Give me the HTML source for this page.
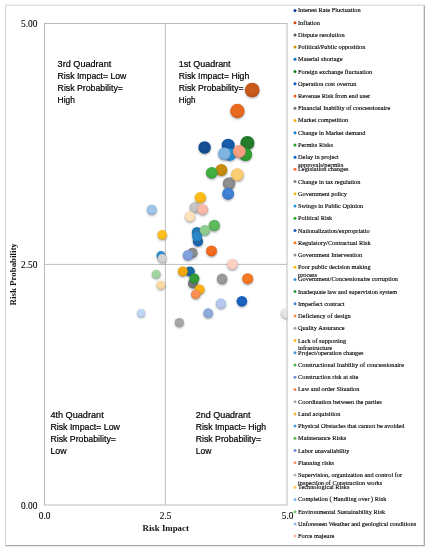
<!DOCTYPE html>
<html lang="en">
<head>
<meta charset="utf-8">
<title>Risk Impact vs Risk Probability</title>
<style>
html,body{margin:0;padding:0;background:#fff;}
body{width:432px;height:550px;overflow:hidden;}
svg{display:block;}
.lg{font-family:"Liberation Serif","Times New Roman",serif;font-size:6.33px;fill:#000;stroke:#000;stroke-width:0.12px;}
.ax{font-family:"Liberation Serif","Times New Roman",serif;font-size:9.33px;fill:#000;stroke:#000;stroke-width:0.1px;}
.at{font-family:"Liberation Serif","Times New Roman",serif;font-size:9px;font-weight:bold;fill:#111;}
.q{font-family:"Liberation Sans",Arial,sans-serif;font-size:9.8px;fill:#000;stroke:#000;stroke-width:0.22px;}
</style>
</head>
<body>
<svg width="432" height="550" viewBox="0 0 432 550">
<defs>
<filter id="sh" x="-30%" y="-30%" width="160%" height="170%"><feGaussianBlur stdDeviation="0.8"/></filter>
<clipPath id="pc"><rect x="0" y="0" width="287.3" height="550"/></clipPath>

<radialGradient id="g0" cx="0.5" cy="0.42" r="0.56"><stop offset="0" stop-color="#1A5197"/><stop offset="0.7" stop-color="#134C94"/><stop offset="1" stop-color="#114485"/></radialGradient>
<radialGradient id="g1" cx="0.5" cy="0.42" r="0.56"><stop offset="0" stop-color="#1C5DAB"/><stop offset="0.7" stop-color="#1558A8"/><stop offset="1" stop-color="#134F97"/></radialGradient>
<radialGradient id="g2" cx="0.5" cy="0.42" r="0.56"><stop offset="0" stop-color="#1C65BF"/><stop offset="0.7" stop-color="#1560BD"/><stop offset="1" stop-color="#1356AA"/></radialGradient>
<radialGradient id="g3" cx="0.5" cy="0.42" r="0.56"><stop offset="0" stop-color="#1E6CA2"/><stop offset="0.7" stop-color="#17679F"/><stop offset="1" stop-color="#155D8F"/></radialGradient>
<radialGradient id="g4" cx="0.5" cy="0.42" r="0.56"><stop offset="0" stop-color="#1E6CB7"/><stop offset="0.7" stop-color="#1767B5"/><stop offset="1" stop-color="#155DA3"/></radialGradient>
<radialGradient id="g5" cx="0.5" cy="0.42" r="0.56"><stop offset="0" stop-color="#2595D9"/><stop offset="0.7" stop-color="#1E92D8"/><stop offset="1" stop-color="#1B83C2"/></radialGradient>
<radialGradient id="g6" cx="0.5" cy="0.42" r="0.56"><stop offset="0" stop-color="#267BB6"/><stop offset="0.7" stop-color="#1F77B4"/><stop offset="1" stop-color="#1C6BA2"/></radialGradient>
<radialGradient id="g7" cx="0.5" cy="0.42" r="0.56"><stop offset="0" stop-color="#287E30"/><stop offset="0.7" stop-color="#217A2A"/><stop offset="1" stop-color="#1E6E26"/></radialGradient>
<radialGradient id="g8" cx="0.5" cy="0.42" r="0.56"><stop offset="0" stop-color="#2C8BCA"/><stop offset="0.7" stop-color="#2587C8"/><stop offset="1" stop-color="#217AB4"/></radialGradient>
<radialGradient id="g9" cx="0.5" cy="0.42" r="0.56"><stop offset="0" stop-color="#33A333"/><stop offset="0.7" stop-color="#2DA02D"/><stop offset="1" stop-color="#289028"/></radialGradient>
<radialGradient id="g10" cx="0.5" cy="0.42" r="0.56"><stop offset="0" stop-color="#348ED1"/><stop offset="0.7" stop-color="#2E8BD0"/><stop offset="1" stop-color="#297DBB"/></radialGradient>
<radialGradient id="g11" cx="0.5" cy="0.42" r="0.56"><stop offset="0" stop-color="#349D3B"/><stop offset="0.7" stop-color="#2E9A35"/><stop offset="1" stop-color="#298B30"/></radialGradient>
<radialGradient id="g12" cx="0.5" cy="0.42" r="0.56"><stop offset="0" stop-color="#44B044"/><stop offset="0.7" stop-color="#3EAE3E"/><stop offset="1" stop-color="#389D38"/></radialGradient>
<radialGradient id="g13" cx="0.5" cy="0.42" r="0.56"><stop offset="0" stop-color="#4583D5"/><stop offset="0.7" stop-color="#3F7FD4"/><stop offset="1" stop-color="#3972BF"/></radialGradient>
<radialGradient id="g14" cx="0.5" cy="0.42" r="0.56"><stop offset="0" stop-color="#61BA61"/><stop offset="0.7" stop-color="#5CB85C"/><stop offset="1" stop-color="#53A653"/></radialGradient>
<radialGradient id="g15" cx="0.5" cy="0.42" r="0.56"><stop offset="0" stop-color="#7C7C7C"/><stop offset="0.7" stop-color="#787878"/><stop offset="1" stop-color="#6C6C6C"/></radialGradient>
<radialGradient id="g16" cx="0.5" cy="0.42" r="0.56"><stop offset="0" stop-color="#83A3DD"/><stop offset="0.7" stop-color="#7FA0DC"/><stop offset="1" stop-color="#7290C6"/></radialGradient>
<radialGradient id="g17" cx="0.5" cy="0.42" r="0.56"><stop offset="0" stop-color="#83B5E1"/><stop offset="0.7" stop-color="#7FB3E0"/><stop offset="1" stop-color="#72A1CA"/></radialGradient>
<radialGradient id="g18" cx="0.5" cy="0.42" r="0.56"><stop offset="0" stop-color="#8E8E8E"/><stop offset="0.7" stop-color="#8A8A8A"/><stop offset="1" stop-color="#7C7C7C"/></radialGradient>
<radialGradient id="g19" cx="0.5" cy="0.42" r="0.56"><stop offset="0" stop-color="#8F8F8F"/><stop offset="0.7" stop-color="#8C8C8C"/><stop offset="1" stop-color="#7E7E7E"/></radialGradient>
<radialGradient id="g20" cx="0.5" cy="0.42" r="0.56"><stop offset="0" stop-color="#90CD90"/><stop offset="0.7" stop-color="#8DCB8D"/><stop offset="1" stop-color="#7FB77F"/></radialGradient>
<radialGradient id="g21" cx="0.5" cy="0.42" r="0.56"><stop offset="0" stop-color="#92ADDD"/><stop offset="0.7" stop-color="#8FAADC"/><stop offset="1" stop-color="#8199C6"/></radialGradient>
<radialGradient id="g22" cx="0.5" cy="0.42" r="0.56"><stop offset="0" stop-color="#9B9B9B"/><stop offset="0.7" stop-color="#989898"/><stop offset="1" stop-color="#898989"/></radialGradient>
<radialGradient id="g23" cx="0.5" cy="0.42" r="0.56"><stop offset="0" stop-color="#A0C5E7"/><stop offset="0.7" stop-color="#9DC3E6"/><stop offset="1" stop-color="#8DB0CF"/></radialGradient>
<radialGradient id="g24" cx="0.5" cy="0.42" r="0.56"><stop offset="0" stop-color="#A3D5A3"/><stop offset="0.7" stop-color="#A0D4A0"/><stop offset="1" stop-color="#90BF90"/></radialGradient>
<radialGradient id="g25" cx="0.5" cy="0.42" r="0.56"><stop offset="0" stop-color="#A9A9A9"/><stop offset="0.7" stop-color="#A6A6A6"/><stop offset="1" stop-color="#959595"/></radialGradient>
<radialGradient id="g26" cx="0.5" cy="0.42" r="0.56"><stop offset="0" stop-color="#B6C9EF"/><stop offset="0.7" stop-color="#B4C7EE"/><stop offset="1" stop-color="#A2B3D6"/></radialGradient>
<radialGradient id="g27" cx="0.5" cy="0.42" r="0.56"><stop offset="0" stop-color="#BFD8F4"/><stop offset="0.7" stop-color="#BDD7F4"/><stop offset="1" stop-color="#AAC2DC"/></radialGradient>
<radialGradient id="g28" cx="0.5" cy="0.42" r="0.56"><stop offset="0" stop-color="#C6C6C6"/><stop offset="0.7" stop-color="#C4C4C4"/><stop offset="1" stop-color="#B0B0B0"/></radialGradient>
<radialGradient id="g29" cx="0.5" cy="0.42" r="0.56"><stop offset="0" stop-color="#C78E11"/><stop offset="0.7" stop-color="#C58A0A"/><stop offset="1" stop-color="#B17C09"/></radialGradient>
<radialGradient id="g30" cx="0.5" cy="0.42" r="0.56"><stop offset="0" stop-color="#CA5D21"/><stop offset="0.7" stop-color="#C8581A"/><stop offset="1" stop-color="#B44F17"/></radialGradient>
<radialGradient id="g31" cx="0.5" cy="0.42" r="0.56"><stop offset="0" stop-color="#D3D3D3"/><stop offset="0.7" stop-color="#D2D2D2"/><stop offset="1" stop-color="#BDBDBD"/></radialGradient>
<radialGradient id="g32" cx="0.5" cy="0.42" r="0.56"><stop offset="0" stop-color="#E5E5E5"/><stop offset="0.7" stop-color="#E4E4E4"/><stop offset="1" stop-color="#CDCDCD"/></radialGradient>
<radialGradient id="g33" cx="0.5" cy="0.42" r="0.56"><stop offset="0" stop-color="#E96C23"/><stop offset="0.7" stop-color="#E8671C"/><stop offset="1" stop-color="#D15D19"/></radialGradient>
<radialGradient id="g34" cx="0.5" cy="0.42" r="0.56"><stop offset="0" stop-color="#F26F24"/><stop offset="0.7" stop-color="#F26B1D"/><stop offset="1" stop-color="#DA601A"/></radialGradient>
<radialGradient id="g35" cx="0.5" cy="0.42" r="0.56"><stop offset="0" stop-color="#F2A913"/><stop offset="0.7" stop-color="#F2A60C"/><stop offset="1" stop-color="#DA950B"/></radialGradient>
<radialGradient id="g36" cx="0.5" cy="0.42" r="0.56"><stop offset="0" stop-color="#F57A27"/><stop offset="0.7" stop-color="#F57620"/><stop offset="1" stop-color="#DC6A1D"/></radialGradient>
<radialGradient id="g37" cx="0.5" cy="0.42" r="0.56"><stop offset="0" stop-color="#F7A184"/><stop offset="0.7" stop-color="#F79E80"/><stop offset="1" stop-color="#DE8E73"/></radialGradient>
<radialGradient id="g38" cx="0.5" cy="0.42" r="0.56"><stop offset="0" stop-color="#F8BAAB"/><stop offset="0.7" stop-color="#F8B8A8"/><stop offset="1" stop-color="#DFA697"/></radialGradient>
<radialGradient id="g39" cx="0.5" cy="0.42" r="0.56"><stop offset="0" stop-color="#FA8F55"/><stop offset="0.7" stop-color="#FA8C50"/><stop offset="1" stop-color="#E17E48"/></radialGradient>
<radialGradient id="g40" cx="0.5" cy="0.42" r="0.56"><stop offset="0" stop-color="#FBD1C6"/><stop offset="0.7" stop-color="#FBD0C4"/><stop offset="1" stop-color="#E2BBB0"/></radialGradient>
<radialGradient id="g41" cx="0.5" cy="0.42" r="0.56"><stop offset="0" stop-color="#FCCE76"/><stop offset="0.7" stop-color="#FCCC72"/><stop offset="1" stop-color="#E3B867"/></radialGradient>
<radialGradient id="g42" cx="0.5" cy="0.42" r="0.56"><stop offset="0" stop-color="#FCDAA3"/><stop offset="0.7" stop-color="#FCD9A0"/><stop offset="1" stop-color="#E3C390"/></radialGradient>
<radialGradient id="g43" cx="0.5" cy="0.42" r="0.56"><stop offset="0" stop-color="#FCE1BA"/><stop offset="0.7" stop-color="#FCE0B8"/><stop offset="1" stop-color="#E3CAA6"/></radialGradient>
<radialGradient id="g44" cx="0.5" cy="0.42" r="0.56"><stop offset="0" stop-color="#FDB117"/><stop offset="0.7" stop-color="#FDAF10"/><stop offset="1" stop-color="#E49E0E"/></radialGradient>
<radialGradient id="g45" cx="0.5" cy="0.42" r="0.56"><stop offset="0" stop-color="#FDBB1A"/><stop offset="0.7" stop-color="#FDB913"/><stop offset="1" stop-color="#E4A611"/></radialGradient>
<radialGradient id="g46" cx="0.5" cy="0.42" r="0.56"><stop offset="0" stop-color="#FFC023"/><stop offset="0.7" stop-color="#FFBE1C"/><stop offset="1" stop-color="#E6AB19"/></radialGradient>
</defs>
<rect x="0" y="0" width="432" height="550" fill="#fff"/>
<path d="M5.5 545.5 V5.2" fill="none" stroke="#D4D4D4" stroke-width="1"/><path d="M5 5.2 H424.5" fill="none" stroke="#DADADA" stroke-width="1.3"/>
<path d="M424.3 5.5 V545.55 H5.5" fill="none" stroke="#A8A8A8" stroke-width="1.3"/>
<rect x="44.5" y="23.5" width="242.5" height="481.5" fill="none" stroke="#A8A8A8" stroke-width="0.75"/>
<path d="M165.4 23.5 V505.0 M44.5 264.4 H287.0" fill="none" stroke="#A4A4A4" stroke-width="0.7"/>
<text class="q" x="57.6" y="66.8" textLength="53.7" lengthAdjust="spacingAndGlyphs">3rd Quadrant</text>
<text class="q" x="57.6" y="78.8" textLength="68.8" lengthAdjust="spacingAndGlyphs">Risk Impact= Low</text>
<text class="q" x="57.6" y="90.8" textLength="65.3" lengthAdjust="spacingAndGlyphs">Risk Probability=</text>
<text class="q" x="57.6" y="102.8" textLength="17.2" lengthAdjust="spacingAndGlyphs">High</text>
<text class="q" x="178.8" y="66.8" textLength="51.8" lengthAdjust="spacingAndGlyphs">1st Quadrant</text>
<text class="q" x="178.8" y="78.8" textLength="70.4" lengthAdjust="spacingAndGlyphs">Risk Impact= High</text>
<text class="q" x="178.8" y="90.8" textLength="64.8" lengthAdjust="spacingAndGlyphs">Risk Probability=</text>
<text class="q" x="178.8" y="102.8" textLength="16.7" lengthAdjust="spacingAndGlyphs">High</text>
<text class="q" x="50.4" y="418.3" textLength="53.3" lengthAdjust="spacingAndGlyphs">4th Quadrant</text>
<text class="q" x="50.4" y="430.3" textLength="69.5" lengthAdjust="spacingAndGlyphs">Risk Impact= Low</text>
<text class="q" x="50.4" y="442.3" textLength="65.5" lengthAdjust="spacingAndGlyphs">Risk Probability=</text>
<text class="q" x="50.4" y="454.3" textLength="16.2" lengthAdjust="spacingAndGlyphs">Low</text>
<text class="q" x="195.7" y="418.3" textLength="54.9" lengthAdjust="spacingAndGlyphs">2nd Quadrant</text>
<text class="q" x="195.7" y="430.3" textLength="70.4" lengthAdjust="spacingAndGlyphs">Risk Impact= High</text>
<text class="q" x="195.7" y="442.3" textLength="65.3" lengthAdjust="spacingAndGlyphs">Risk Probability=</text>
<text class="q" x="195.7" y="454.3" textLength="15.6" lengthAdjust="spacingAndGlyphs">Low</text>
<text class="ax" x="37.3" y="27.0" text-anchor="end">5.00</text>
<text class="ax" x="37.3" y="267.7" text-anchor="end">2.50</text>
<text class="ax" x="37.3" y="508.7" text-anchor="end">0.00</text>
<text class="ax" x="44.6" y="519.3" text-anchor="middle">0.0</text>
<text class="ax" x="165.6" y="519.3" text-anchor="middle">2.5</text>
<text class="ax" x="287.6" y="519.3" text-anchor="middle">5.0</text>
<text class="at" x="165.7" y="531" text-anchor="middle" textLength="46.3" lengthAdjust="spacingAndGlyphs">Risk Impact</text>
<text class="at" transform="translate(16.2,274.3) rotate(-90)" text-anchor="middle" textLength="62.2" lengthAdjust="spacingAndGlyphs">Risk Probability</text>
<g clip-path="url(#pc)">
<circle cx="252.3" cy="91.1" r="7.2" fill="#3A4658" opacity="0.5" filter="url(#sh)"/>
<circle cx="252.2" cy="90.0" r="7.3" fill="url(#g30)"/>
<circle cx="237.5" cy="112.1" r="7.1" fill="#3A4658" opacity="0.5" filter="url(#sh)"/>
<circle cx="237.4" cy="111.0" r="7.2" fill="url(#g33)"/>
<circle cx="204.7" cy="148.6" r="6.1" fill="#3A4658" opacity="0.5" filter="url(#sh)"/>
<circle cx="204.6" cy="147.5" r="6.2" fill="url(#g0)"/>
<circle cx="228.3" cy="146.3" r="6.4" fill="#3A4658" opacity="0.5" filter="url(#sh)"/>
<circle cx="228.2" cy="145.2" r="6.5" fill="url(#g1)"/>
<circle cx="247.5" cy="144.0" r="6.9" fill="#3A4658" opacity="0.5" filter="url(#sh)"/>
<circle cx="247.4" cy="142.9" r="7.0" fill="url(#g7)"/>
<circle cx="245.6" cy="155.6" r="6.5" fill="#3A4658" opacity="0.5" filter="url(#sh)"/>
<circle cx="245.5" cy="154.5" r="6.6" fill="url(#g9)"/>
<circle cx="229.9" cy="155.6" r="6.2" fill="#3A4658" opacity="0.5" filter="url(#sh)"/>
<circle cx="229.8" cy="154.5" r="6.3" fill="url(#g5)"/>
<circle cx="224.4" cy="154.9" r="6.2" fill="#3A4658" opacity="0.5" filter="url(#sh)"/>
<circle cx="224.3" cy="153.8" r="6.3" fill="url(#g17)"/>
<circle cx="239.4" cy="152.6" r="6.4" fill="#3A4658" opacity="0.5" filter="url(#sh)"/>
<circle cx="239.3" cy="151.5" r="6.5" fill="url(#g37)"/>
<circle cx="221.5" cy="171.2" r="5.9" fill="#3A4658" opacity="0.5" filter="url(#sh)"/>
<circle cx="221.4" cy="170.1" r="6.0" fill="url(#g29)"/>
<circle cx="211.8" cy="174.0" r="5.7" fill="#3A4658" opacity="0.5" filter="url(#sh)"/>
<circle cx="211.7" cy="172.9" r="5.8" fill="url(#g12)"/>
<circle cx="229.1" cy="184.6" r="6.1" fill="#3A4658" opacity="0.5" filter="url(#sh)"/>
<circle cx="229.0" cy="183.5" r="6.2" fill="url(#g19)"/>
<circle cx="237.5" cy="175.8" r="6.3" fill="#3A4658" opacity="0.5" filter="url(#sh)"/>
<circle cx="237.4" cy="174.7" r="6.4" fill="url(#g41)"/>
<circle cx="228.2" cy="194.8" r="5.9" fill="#3A4658" opacity="0.5" filter="url(#sh)"/>
<circle cx="228.1" cy="193.7" r="6.0" fill="url(#g13)"/>
<circle cx="194.9" cy="208.5" r="5.2" fill="#3A4658" opacity="0.5" filter="url(#sh)"/>
<circle cx="194.8" cy="207.4" r="5.3" fill="url(#g28)"/>
<circle cx="200.5" cy="198.7" r="5.5" fill="#3A4658" opacity="0.5" filter="url(#sh)"/>
<circle cx="200.4" cy="197.6" r="5.6" fill="url(#g45)"/>
<circle cx="202.7" cy="210.5" r="5.4" fill="#3A4658" opacity="0.5" filter="url(#sh)"/>
<circle cx="202.6" cy="209.4" r="5.5" fill="url(#g38)"/>
<circle cx="190.1" cy="217.6" r="5.2" fill="#3A4658" opacity="0.5" filter="url(#sh)"/>
<circle cx="190.0" cy="216.5" r="5.3" fill="url(#g43)"/>
<circle cx="214.4" cy="226.6" r="5.6" fill="#3A4658" opacity="0.5" filter="url(#sh)"/>
<circle cx="214.3" cy="225.5" r="5.7" fill="url(#g14)"/>
<circle cx="197.1" cy="233.4" r="5.1" fill="#3A4658" opacity="0.5" filter="url(#sh)"/>
<circle cx="197.0" cy="232.3" r="5.2" fill="url(#g6)"/>
<circle cx="198.1" cy="242.6" r="5.0" fill="#3A4658" opacity="0.5" filter="url(#sh)"/>
<circle cx="198.0" cy="241.5" r="5.1" fill="url(#g4)"/>
<circle cx="197.2" cy="237.7" r="4.9" fill="#3A4658" opacity="0.5" filter="url(#sh)"/>
<circle cx="197.1" cy="236.6" r="5.0" fill="url(#g8)"/>
<circle cx="205.1" cy="231.3" r="5.2" fill="#3A4658" opacity="0.5" filter="url(#sh)"/>
<circle cx="205.0" cy="230.2" r="5.3" fill="url(#g20)"/>
<circle cx="151.9" cy="210.8" r="4.9" fill="#3A4658" opacity="0.5" filter="url(#sh)"/>
<circle cx="151.8" cy="209.7" r="5.0" fill="url(#g23)"/>
<circle cx="162.3" cy="236.0" r="4.7" fill="#3A4658" opacity="0.5" filter="url(#sh)"/>
<circle cx="162.2" cy="234.9" r="4.8" fill="url(#g46)"/>
<circle cx="211.6" cy="252.0" r="5.4" fill="#3A4658" opacity="0.5" filter="url(#sh)"/>
<circle cx="211.5" cy="250.9" r="5.5" fill="url(#g34)"/>
<circle cx="192.6" cy="253.9" r="5.0" fill="#3A4658" opacity="0.5" filter="url(#sh)"/>
<circle cx="192.5" cy="252.8" r="5.1" fill="url(#g18)"/>
<circle cx="188.0" cy="256.4" r="5.1" fill="#3A4658" opacity="0.5" filter="url(#sh)"/>
<circle cx="187.9" cy="255.3" r="5.2" fill="url(#g16)"/>
<circle cx="161.1" cy="256.7" r="4.4" fill="#3A4658" opacity="0.5" filter="url(#sh)"/>
<circle cx="161.0" cy="255.6" r="4.5" fill="url(#g10)"/>
<circle cx="162.3" cy="259.5" r="4.3" fill="#3A4658" opacity="0.5" filter="url(#sh)"/>
<circle cx="162.2" cy="258.4" r="4.4" fill="url(#g31)"/>
<circle cx="156.3" cy="275.3" r="4.3" fill="#3A4658" opacity="0.5" filter="url(#sh)"/>
<circle cx="156.2" cy="274.2" r="4.4" fill="url(#g24)"/>
<circle cx="160.9" cy="286.3" r="4.3" fill="#3A4658" opacity="0.5" filter="url(#sh)"/>
<circle cx="160.8" cy="285.2" r="4.4" fill="url(#g42)"/>
<circle cx="189.9" cy="272.6" r="4.9" fill="#3A4658" opacity="0.5" filter="url(#sh)"/>
<circle cx="189.8" cy="271.5" r="5.0" fill="url(#g3)"/>
<circle cx="182.9" cy="272.6" r="4.9" fill="#3A4658" opacity="0.5" filter="url(#sh)"/>
<circle cx="182.8" cy="271.5" r="5.0" fill="url(#g35)"/>
<circle cx="193.1" cy="284.5" r="4.9" fill="#3A4658" opacity="0.5" filter="url(#sh)"/>
<circle cx="193.0" cy="283.4" r="5.0" fill="url(#g15)"/>
<circle cx="194.5" cy="279.6" r="4.9" fill="#3A4658" opacity="0.5" filter="url(#sh)"/>
<circle cx="194.4" cy="278.5" r="5.0" fill="url(#g11)"/>
<circle cx="199.8" cy="290.6" r="4.9" fill="#3A4658" opacity="0.5" filter="url(#sh)"/>
<circle cx="199.7" cy="289.5" r="5.0" fill="url(#g44)"/>
<circle cx="195.8" cy="295.5" r="4.6" fill="#3A4658" opacity="0.5" filter="url(#sh)"/>
<circle cx="195.7" cy="294.4" r="4.7" fill="url(#g39)"/>
<circle cx="222.2" cy="280.0" r="5.2" fill="#3A4658" opacity="0.5" filter="url(#sh)"/>
<circle cx="222.1" cy="278.9" r="5.3" fill="url(#g22)"/>
<circle cx="221.0" cy="304.8" r="5.0" fill="#3A4658" opacity="0.5" filter="url(#sh)"/>
<circle cx="220.9" cy="303.7" r="5.1" fill="url(#g26)"/>
<circle cx="208.3" cy="314.3" r="4.8" fill="#3A4658" opacity="0.5" filter="url(#sh)"/>
<circle cx="208.2" cy="313.2" r="4.9" fill="url(#g21)"/>
<circle cx="179.4" cy="323.6" r="4.5" fill="#3A4658" opacity="0.5" filter="url(#sh)"/>
<circle cx="179.3" cy="322.5" r="4.6" fill="url(#g25)"/>
<circle cx="141.2" cy="314.1" r="3.9" fill="#3A4658" opacity="0.5" filter="url(#sh)"/>
<circle cx="141.1" cy="313.0" r="4.0" fill="url(#g27)"/>
<circle cx="232.5" cy="265.4" r="5.4" fill="#3A4658" opacity="0.5" filter="url(#sh)"/>
<circle cx="232.4" cy="264.3" r="5.5" fill="url(#g40)"/>
<circle cx="247.8" cy="279.8" r="5.4" fill="#3A4658" opacity="0.5" filter="url(#sh)"/>
<circle cx="247.7" cy="278.7" r="5.5" fill="url(#g36)"/>
<circle cx="242.0" cy="302.4" r="5.2" fill="#3A4658" opacity="0.5" filter="url(#sh)"/>
<circle cx="241.9" cy="301.3" r="5.3" fill="url(#g2)"/>
<circle cx="286.2" cy="314.5" r="5.1" fill="#3A4658" opacity="0.5" filter="url(#sh)"/>
<circle cx="286.1" cy="313.4" r="5.2" fill="url(#g32)"/>
</g>
<circle cx="295.0" cy="10.45" r="1.5" fill="#0A3C96"/>
<text class="lg" x="298" y="12.45">Interest Rate Fluctuation</text>
<circle cx="295.0" cy="22.67" r="1.5" fill="#CC4A08"/>
<text class="lg" x="298" y="24.67">Inflation</text>
<circle cx="295.0" cy="34.90" r="1.5" fill="#555555"/>
<text class="lg" x="298" y="36.90">Dispute resolution</text>
<circle cx="295.0" cy="47.12" r="1.5" fill="#D08A00"/>
<text class="lg" x="298" y="49.12">Political/Public opposition</text>
<circle cx="295.0" cy="59.35" r="1.5" fill="#1070B8"/>
<text class="lg" x="298" y="61.35">Material shortage</text>
<circle cx="295.0" cy="71.58" r="1.5" fill="#0F8014"/>
<text class="lg" x="298" y="73.58">Foreign exchange fluctuation</text>
<circle cx="295.0" cy="83.80" r="1.5" fill="#0A55CC"/>
<text class="lg" x="298" y="85.80">Operation cost overrun</text>
<circle cx="295.0" cy="96.03" r="1.5" fill="#F05A10"/>
<text class="lg" x="298" y="98.03">Revenue Risk from end user</text>
<circle cx="295.0" cy="108.25" r="1.5" fill="#707070"/>
<text class="lg" x="298" y="110.25">Financial Inability of concessionaire</text>
<circle cx="295.0" cy="120.47" r="1.5" fill="#FDA810"/>
<text class="lg" x="298" y="122.47">Market competition</text>
<circle cx="295.0" cy="132.70" r="1.5" fill="#1482D2"/>
<text class="lg" x="298" y="134.70">Change in Market demand</text>
<circle cx="295.0" cy="144.92" r="1.5" fill="#1CA01C"/>
<text class="lg" x="298" y="146.92">Permits Risks</text>
<circle cx="295.0" cy="157.15" r="1.5" fill="#0C62D0"/>
<text class="lg" x="298" y="159.15">Delay in project</text>
<text class="lg" x="298" y="167.05">approvals/permits</text>
<circle cx="295.0" cy="169.37" r="1.5" fill="#F86A32"/>
<text class="lg" x="298" y="171.37">Legislation changes</text>
<circle cx="295.0" cy="181.60" r="1.5" fill="#808080"/>
<text class="lg" x="298" y="183.60">Change in tax regulation</text>
<circle cx="295.0" cy="193.82" r="1.5" fill="#FDB913"/>
<text class="lg" x="298" y="195.82">Government policy</text>
<circle cx="295.0" cy="206.05" r="1.5" fill="#2090E0"/>
<text class="lg" x="298" y="208.05">Swings in Public Opinion</text>
<circle cx="295.0" cy="218.27" r="1.5" fill="#28A828"/>
<text class="lg" x="298" y="220.27">Political Risk</text>
<circle cx="295.0" cy="230.50" r="1.5" fill="#1560BD"/>
<text class="lg" x="298" y="232.50">Nationalization/expropriatio</text>
<circle cx="295.0" cy="242.72" r="1.5" fill="#F57620"/>
<text class="lg" x="298" y="244.72">Regulatory/Contractual Risk</text>
<circle cx="295.0" cy="254.95" r="1.5" fill="#909090"/>
<text class="lg" x="298" y="256.95">Government Intervention</text>
<circle cx="295.0" cy="267.17" r="1.5" fill="#FDB913"/>
<text class="lg" x="298" y="269.17">Poor public decision making</text>
<text class="lg" x="298" y="277.07">process</text>
<circle cx="295.0" cy="279.40" r="1.5" fill="#2E9BD6"/>
<text class="lg" x="298" y="281.40">Government/Concessionaire corruption</text>
<circle cx="295.0" cy="291.62" r="1.5" fill="#2E9B3A"/>
<text class="lg" x="298" y="293.62">Inadequate law and supervision system</text>
<circle cx="295.0" cy="303.85" r="1.5" fill="#3F7FD4"/>
<text class="lg" x="298" y="305.85">Imperfect contract</text>
<circle cx="295.0" cy="316.07" r="1.5" fill="#FA8C50"/>
<text class="lg" x="298" y="318.07">Deficiency of design</text>
<circle cx="295.0" cy="328.30" r="1.5" fill="#A6A6A6"/>
<text class="lg" x="298" y="330.30">Quality Assurance</text>
<circle cx="295.0" cy="340.52" r="1.5" fill="#FDB92A"/>
<text class="lg" x="298" y="342.52">Lack of supporting</text>
<text class="lg" x="298" y="350.42">infrastructure</text>
<circle cx="295.0" cy="352.75" r="1.5" fill="#3A98E0"/>
<text class="lg" x="298" y="354.75">Project/operation changes</text>
<circle cx="295.0" cy="364.97" r="1.5" fill="#48B048"/>
<text class="lg" x="298" y="366.97">Constructional Inability of concessionaire</text>
<circle cx="295.0" cy="377.20" r="1.5" fill="#6A8ED8"/>
<text class="lg" x="298" y="379.20">Construction risk at site</text>
<circle cx="295.0" cy="389.42" r="1.5" fill="#F8865A"/>
<text class="lg" x="298" y="391.42">Law and order Situation</text>
<circle cx="295.0" cy="401.65" r="1.5" fill="#ABABAB"/>
<text class="lg" x="298" y="403.65">Coordination between the parties</text>
<circle cx="295.0" cy="413.88" r="1.5" fill="#FDB535"/>
<text class="lg" x="298" y="415.88">Land acquisition</text>
<circle cx="295.0" cy="426.10" r="1.5" fill="#4A9FE8"/>
<text class="lg" x="298" y="428.10">Physical Obstacles that cannot be avoided</text>
<circle cx="295.0" cy="438.32" r="1.5" fill="#55B855"/>
<text class="lg" x="298" y="440.32">Maintenance Risks</text>
<circle cx="295.0" cy="450.55" r="1.5" fill="#7090D8"/>
<text class="lg" x="298" y="452.55">Labor unavailability</text>
<circle cx="295.0" cy="462.77" r="1.5" fill="#F89078"/>
<text class="lg" x="298" y="464.77">Planning risks</text>
<circle cx="295.0" cy="475.00" r="1.5" fill="#B4B4B4"/>
<text class="lg" x="298" y="477.00">Supervision, organization and control for</text>
<text class="lg" x="298" y="484.90">inspection of Construction works</text>
<circle cx="295.0" cy="487.22" r="1.5" fill="#FDC860"/>
<text class="lg" x="298" y="489.22">Technological Risks</text>
<circle cx="295.0" cy="499.45" r="1.5" fill="#80B8F0"/>
<text class="lg" x="298" y="501.45">Completion ( Handling over ) Risk</text>
<circle cx="295.0" cy="511.67" r="1.5" fill="#78C878"/>
<text class="lg" x="298" y="513.67">Environmental Sustainability Risk</text>
<circle cx="295.0" cy="523.90" r="1.5" fill="#A0B8E8"/>
<text class="lg" x="298" y="525.90">Unforeseen Weather and geological conditions</text>
<circle cx="295.0" cy="536.12" r="1.5" fill="#F8B4A4"/>
<text class="lg" x="298" y="538.12">Force majeure</text>
</svg>
</body>
</html>
